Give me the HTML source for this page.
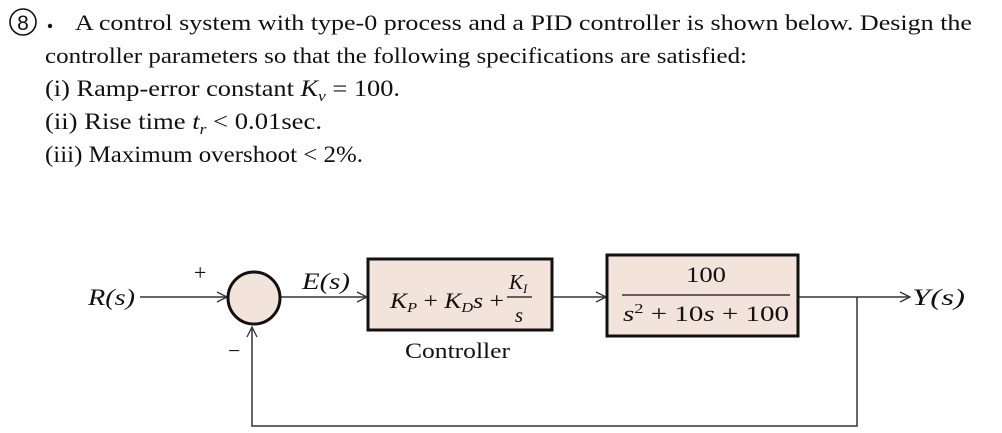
<!DOCTYPE html>
<html><head><style>
html,body{margin:0;padding:0;background:#fff;}
svg{display:block;}
text{font-family:"Liberation Serif","DejaVu Serif",serif;fill:#111;}
.it{font-style:italic;}
</style></head><body>
<svg width="1002" height="433" viewBox="0 0 1002 433" xmlns="http://www.w3.org/2000/svg">
<defs>
<marker id="ah" markerWidth="12" markerHeight="12" refX="11" refY="6" orient="auto" markerUnits="userSpaceOnUse">
<path d="M1,1 L11,6 L1,11" fill="none" stroke="#333" stroke-width="1.3"/>
</marker>
</defs>
<circle cx="23" cy="22" r="13" fill="none" stroke="#111" stroke-width="1.6"/>
<text x="23" y="30" font-size="21" text-anchor="middle" style="font-family:'Liberation Sans',sans-serif">8</text>
<circle cx="50" cy="26" r="2.2" fill="#111"/>
<text x="75" y="30" font-size="22" textLength="897" lengthAdjust="spacingAndGlyphs">A control system with type-0 process and a PID controller is shown below. Design the</text>
<text x="45" y="63" font-size="22" textLength="702" lengthAdjust="spacingAndGlyphs">controller parameters so that the following specifications are satisfied:</text>
<text x="45" y="96" font-size="23" textLength="355" lengthAdjust="spacingAndGlyphs">(i)  Ramp-error constant <tspan class="it">K</tspan><tspan class="it" font-size="15" dy="5">v</tspan><tspan dy="-5"> = 100.</tspan></text>
<text x="45" y="129" font-size="23" textLength="277" lengthAdjust="spacingAndGlyphs">(ii) Rise time <tspan class="it">t</tspan><tspan class="it" font-size="15" dy="5">r</tspan><tspan dy="-5"> &lt; 0.01sec.</tspan></text>
<text x="45" y="162" font-size="23" textLength="318" lengthAdjust="spacingAndGlyphs">(iii) Maximum overshoot &lt; 2%.</text>

<g stroke="#333" stroke-width="1.5" fill="none">
<line x1="140" y1="297" x2="227" y2="297" marker-end="url(#ah)"/>
<line x1="281" y1="297" x2="367" y2="297" marker-end="url(#ah)"/>
<line x1="553" y1="297" x2="606" y2="297" marker-end="url(#ah)"/>
<line x1="799" y1="297" x2="910" y2="297" marker-end="url(#ah)"/>
<polyline points="857,297 857,426 252,426 252,327" marker-end="url(#ah)"/>
</g>
<circle cx="254" cy="298" r="26" fill="#f2e4da" stroke="#111" stroke-width="3"/>
<rect x="368" y="259" width="184" height="71" fill="#f2e4da" stroke="#111" stroke-width="3"/>
<rect x="607" y="255" width="191" height="81" fill="#f2e4da" stroke="#111" stroke-width="3"/>

<text x="88" y="305" font-size="23" class="it" textLength="47" lengthAdjust="spacingAndGlyphs">R(s)</text>
<text x="194" y="280" font-size="22">+</text>
<text x="228" y="358" font-size="22">−</text>
<text x="302" y="289" font-size="23" class="it" textLength="48" lengthAdjust="spacingAndGlyphs">E(s)</text>
<text x="390" y="308" font-size="22" textLength="114" lengthAdjust="spacingAndGlyphs"><tspan class="it">K</tspan><tspan class="it" font-size="14" dy="4">P</tspan><tspan dy="-4"> + </tspan><tspan class="it">K</tspan><tspan class="it" font-size="14" dy="4">D</tspan><tspan class="it" dy="-4">s</tspan><tspan> +</tspan></text>
<text x="509" y="289" font-size="21" class="it">K<tspan font-size="13" dy="4">I</tspan></text>
<line x1="507" y1="297" x2="532" y2="297" stroke="#111" stroke-width="1.2"/>
<text x="519" y="322" font-size="21" class="it" text-anchor="middle">s</text>
<text x="405" y="358" font-size="22" textLength="105" lengthAdjust="spacingAndGlyphs">Controller</text>
<text x="706" y="282" font-size="22" text-anchor="middle" textLength="40" lengthAdjust="spacingAndGlyphs">100</text>
<line x1="622" y1="295" x2="790" y2="295" stroke="#111" stroke-width="1.2"/>
<text x="623" y="321" font-size="22" textLength="166" lengthAdjust="spacingAndGlyphs"><tspan class="it">s</tspan><tspan font-size="14" dy="-8">2</tspan><tspan dy="8"> + 10</tspan><tspan class="it">s</tspan><tspan> + 100</tspan></text>
<text x="912" y="305" font-size="23" class="it" textLength="53" lengthAdjust="spacingAndGlyphs">Y(s)</text>
</svg>
</body></html>
